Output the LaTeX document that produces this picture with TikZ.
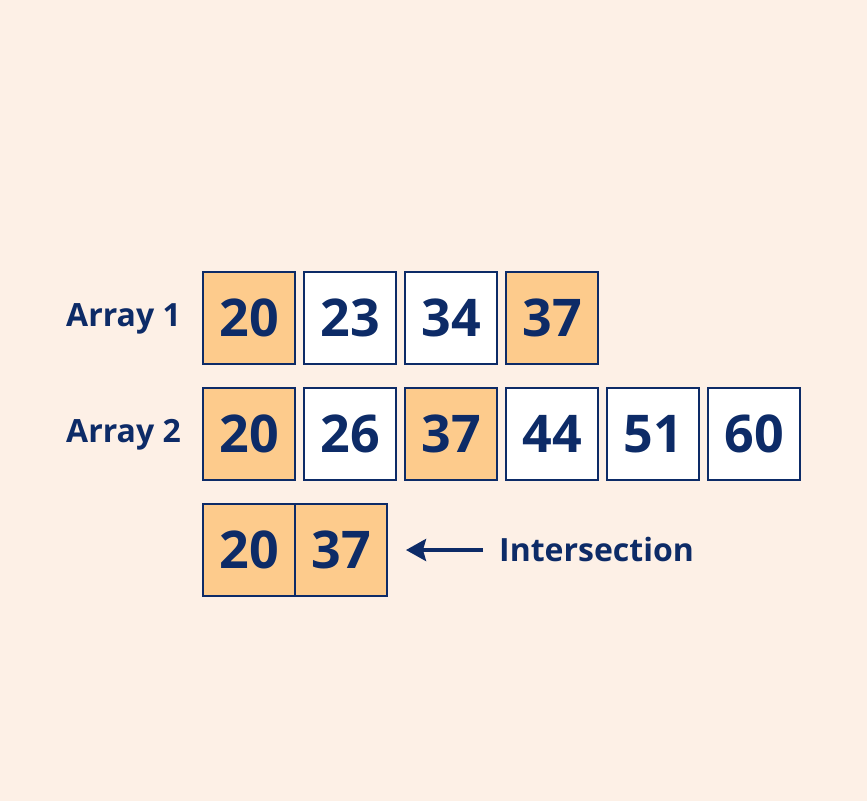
\documentclass[tikz,border=0pt]{standalone}
\usepackage{fontspec}
\setmainfont{Open Sans}
\usetikzlibrary{arrows.meta}
\definecolor{bgc}{HTML}{FDF0E6}
\definecolor{navy}{HTML}{0D2B67}
\definecolor{hilite}{HTML}{FDCB8C}
\tikzset{
  cell/.style={draw=navy, line width=1.8pt, minimum width=92pt, minimum height=92pt, inner sep=0pt,
    font=\fontsize{52}{52}\selectfont\bfseries, text=navy, fill=white},
  hit/.style={cell, fill=hilite},
  lbl/.style={font=\fontsize{32}{32}\selectfont\bfseries, text=navy, inner sep=0pt}
}
\begin{document}
\begin{tikzpicture}[x=1pt,y=-1pt]
\fill[bgc] (0,0) rectangle (867,801);
\useasboundingbox (0,0) rectangle (867,801);
% Row 1
\node[lbl, anchor=east] (l1) at (181,319) {Array 1};
\node[hit]  (a1) at (249,318) {20};
\node[cell] (a2) at (350,318) {23};
\node[cell] (a3) at (451,318) {34};
\node[hit]  (a4) at (552,318) {37};
% Row 2
\node[lbl, anchor=east] (l2) at (181,435) {Array 2};
\node[hit]  (b1) at (249,434) {20};
\node[cell] (b2) at (350,434) {26};
\node[hit]  (b3) at (451,434) {37};
\node[cell] (b4) at (552,434) {44};
\node[cell] (b5) at (653,434) {51};
\node[cell] (b6) at (754,434) {60};
% Row 3
\node[hit] (c1) at (249,550) {20};
\node[hit] (c2) at (341,550) {37};
\node[lbl, anchor=west] (it) at (499,549) {Intersection};
\coordinate (s) at (483,550);
\coordinate (e) at (406,550);
\draw[navy, line width=3.6pt, -{Stealth[length=20pt,width=22pt,inset=3pt]}] (s) -- (e);
\end{tikzpicture}
\end{document}
